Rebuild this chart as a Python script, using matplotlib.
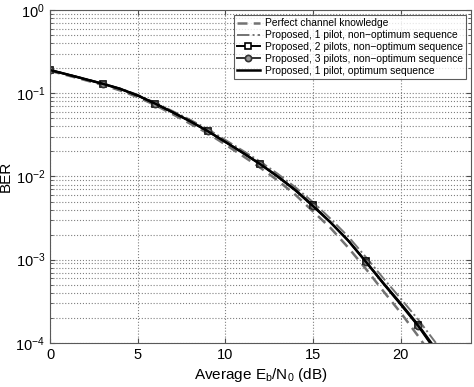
import matplotlib
matplotlib.use("Agg")
import matplotlib.pyplot as plt

plt.rcParams['font.family'] = ['Liberation Sans', 'DejaVu Sans']
plt.rcParams['mathtext.fontset'] = 'custom'
plt.rcParams['mathtext.rm'] = 'Liberation Sans'
plt.rcParams['mathtext.it'] = 'Liberation Sans'

snr = [0, 1, 2, 3, 4, 5, 6, 7, 8, 9, 10, 11, 12, 13, 14, 15, 16, 17, 18, 19, 20, 21, 22]
ber_perfect = [0.186, 0.164, 0.144, 0.126, 0.108, 0.09, 0.072, 0.056, 0.043, 0.033,
               0.0242, 0.0176, 0.0127, 0.0089, 0.006, 0.0038, 0.0024, 0.0014, 0.00078,
               0.00042, 0.00023, 0.00012, 0.00006]
ber_1p_nonopt = [0.19, 0.169, 0.149, 0.131, 0.114, 0.096, 0.077, 0.061, 0.048, 0.037,
                 0.0275, 0.0204, 0.0150, 0.0107, 0.0074, 0.0049, 0.0031, 0.0019, 0.00108,
                 0.0006, 0.00034, 0.00019, 0.0001]
ber_2p = [0.19, 0.168, 0.148, 0.13, 0.113, 0.094, 0.075, 0.059, 0.046, 0.035,
          0.026, 0.0193, 0.0141, 0.0100, 0.0069, 0.0045, 0.0028, 0.0017, 0.00096,
          0.00053, 0.0003, 0.000165, 0.000085]
ber_3p = [0.19, 0.168, 0.148, 0.13, 0.113, 0.094, 0.075, 0.059, 0.046, 0.035,
          0.026, 0.0192, 0.0140, 0.0099, 0.0068, 0.0044, 0.0028, 0.0017, 0.00095,
          0.00052, 0.00029, 0.00016, 0.00008]
ber_1p_opt = [0.19, 0.168, 0.148, 0.13, 0.113, 0.094, 0.075, 0.059, 0.046, 0.035,
              0.026, 0.0192, 0.0140, 0.0099, 0.0068, 0.0044, 0.0028, 0.0017, 0.00095,
              0.00052, 0.00029, 0.00016, 0.00008]

fig = plt.figure(figsize=(4.74, 3.87), dpi=100)
ax = fig.add_axes([0.1055, 0.114, 0.888, 0.86])

ax.semilogy(snr, ber_perfect, '--', color='0.45', lw=1.8, dashes=(4, 2.5),
            label='Perfect channel knowledge')
ax.semilogy(snr, ber_1p_nonopt, '-.', color='0.45', lw=1.4,
            label='Proposed, 1 pilot, non\u2212optimum sequence')
ax.semilogy(snr, ber_2p, '-', color='k', lw=1.4, marker='s', markevery=3, ms=4.5,
            mfc='white', mec='k', mew=1.2, label='Proposed, 2 pilots, non\u2212optimum sequence')
ax.semilogy(snr, ber_3p, '-', color='0.2', lw=1.4, marker='o', markevery=3, ms=4.5,
            mfc='0.6', mec='0.2', mew=1.2, label='Proposed, 3 pilots, non\u2212optimum sequence')
ax.semilogy(snr, ber_1p_opt, '-', color='k', lw=1.8,
            label='Proposed, 1 pilot, optimum sequence')

ax.set_xlim(0, 24)
ax.set_ylim(1e-4, 1)
ax.set_xticks([0, 5, 10, 15, 20])
ax.grid(True, which='major', linestyle=':', color='0.5', lw=0.8)
ax.grid(True, which='minor', axis='y', linestyle=':', color='0.5', lw=0.8)
ax.tick_params(which='both', direction='in', top=True, right=True, labelsize=10.5, color='0.3')
for s in ax.spines.values():
    s.set_color('0.35')

ax.set_xlabel('Average E$_b$/N$_0$ (dB)', fontsize=11, labelpad=3)
ax.set_ylabel('BER', fontsize=11)
ax.yaxis.set_label_coords(-0.088, 0.5)

leg = ax.legend(loc='upper right', fontsize=7.4, frameon=True, fancybox=False,
                edgecolor='0.2', borderaxespad=0.5, handlelength=2.2,
                labelspacing=0.18, borderpad=0.3, handletextpad=0.5)
leg.get_frame().set_linewidth(0.8)

fig.savefig('out.png', dpi=100)
